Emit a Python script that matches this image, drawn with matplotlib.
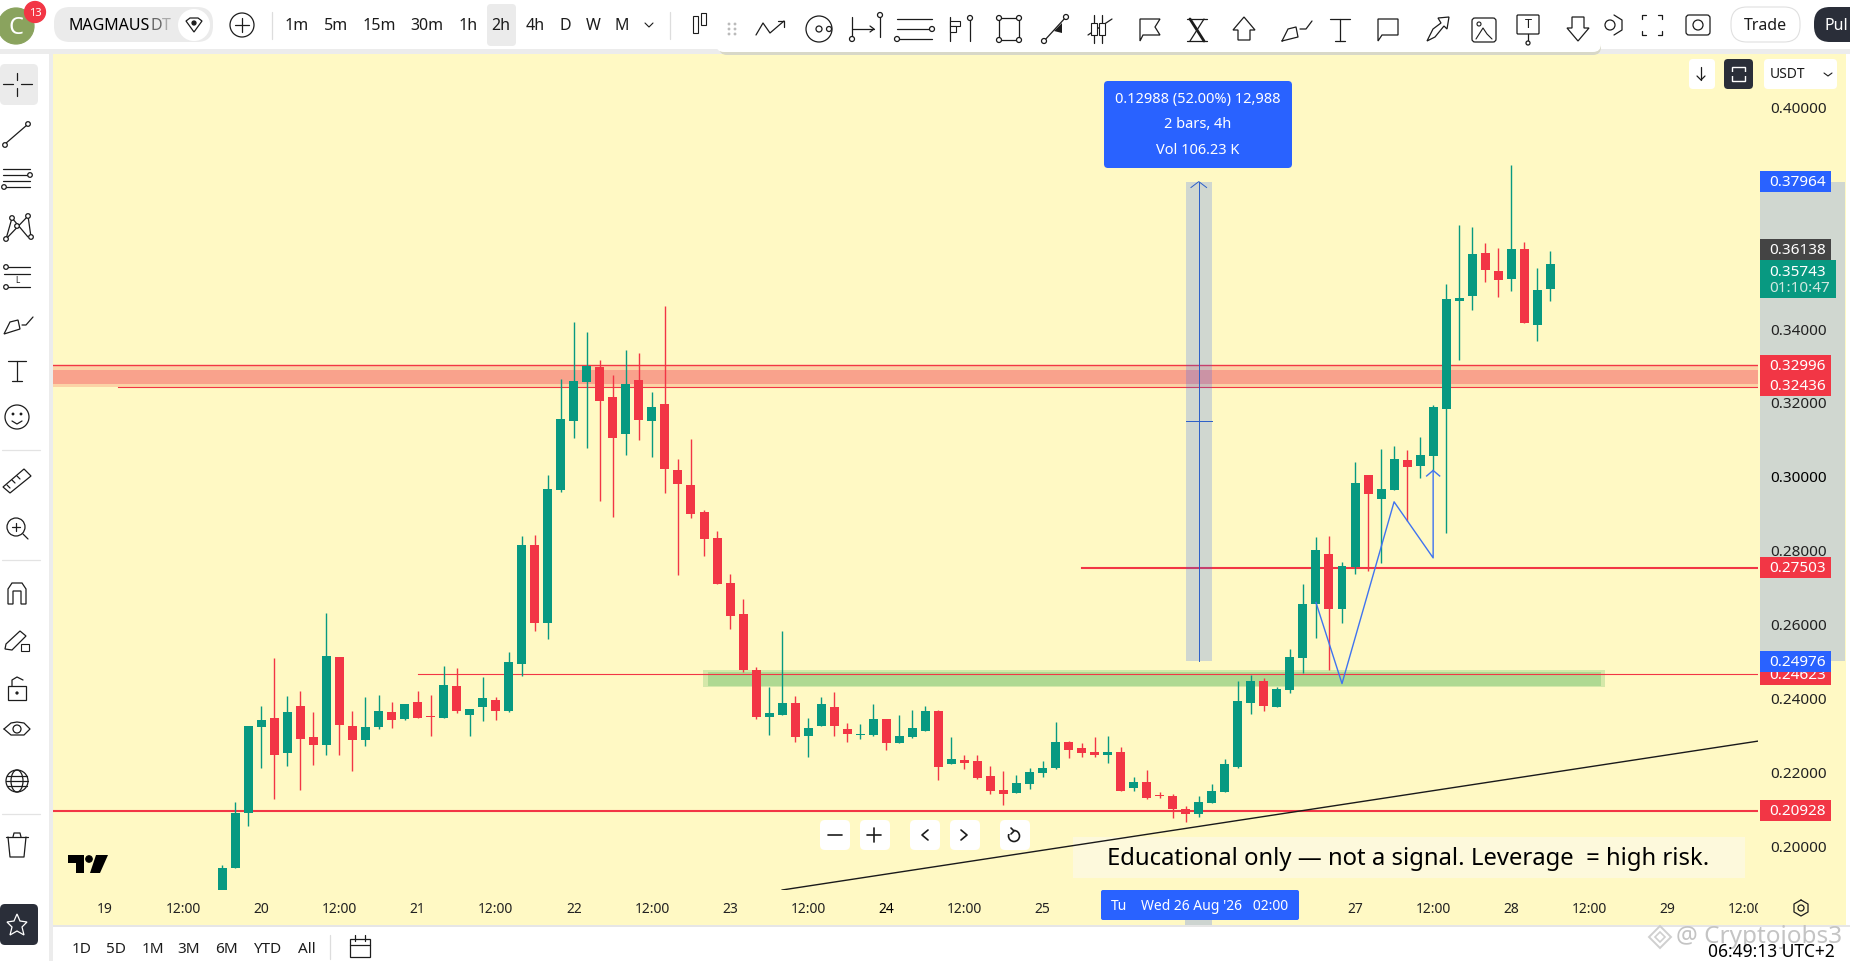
import matplotlib
matplotlib.use("Agg")
import matplotlib.pyplot as plt
from matplotlib.patches import Rectangle, FancyBboxPatch, Circle, Polygon, Ellipse
from matplotlib.transforms import Bbox

plt.rcParams["font.family"] = ["Noto Sans", "DejaVu Sans"]

# ------------------------------- DATA ------------------------------- #

# MAGMAUSDT 2h candles
opens = [.18786, .19375, .20863, .23197, .23443, .22491, .23765, .22929, .22705, .25092,
         .23229, .22844, .23197, .23604, .23411, .23872, .23497, .23443, .24310, .23518,
         .23743, .23925, .23625, .24899, .28122, .26013, .29610, .31484, .32543, .32940,
         .32137, .31130, .32597, .31484, .31944, .30156, .29749, .29021, .28315, .27096,
         .26257, .24741, .23469, .23523, .23848, .22954, .23225, .23739, .23144, .22981,
         .22981, .23415, .22765, .22927, .23090, .23631, .22196, .22304, .22277, .21871,
         .21492, .21411, .21655, .21952, .22088, .22792, .22629, .22521, .22440, .22521,
         .21546, .21709, .21357, .21330, .20978, .20842, .21140, .21438, .22115, .23848,
         .24443, .23739, .24200, .25069, .26529, .27882, .26393, .27534, .30019, .29372,
         .29613, .30425, .30261, .30532, .31808, .34728, .34863, .36033, .35540, .35327,
         .36140, .34080, .35057]
highs = [.19461, .21163, .23229, .23765, .25060, .24032, .24171, .23604, .26281, .25092,
         .23625, .24011, .24064, .23872, .23818, .24171, .24064, .24846, .24792, .23690,
         .24546, .24011, .25231, .28368, .28400, .30017, .32618, .34160, .33892, .33132,
         .32725, .33400, .33325, .32265, .34599, .30456, .30991, .29075, .28504, .27340,
         .26663, .24822, .24281, .25797, .24037, .23442, .24010, .24146, .23306, .23279,
         .23821, .23415, .23523, .23658, .23766, .23658, .22927, .22440, .22440, .22142,
         .22007, .21898, .22088, .22277, .23333, .22819, .22765, .22927, .22954, .22656,
         .21844, .22034, .21438, .21384, .21059, .21330, .21654, .22332, .24443, .24606,
         .24525, .24281, .25310, .27070, .28347, .28376, .27670, .30377, .30019, .30725,
         .30802, .30696, .31054, .31914, .35192, .36788, .36739, .36304, .36169, .38412,
         .36333, .35627, .36082]
lows = [.18786, .19375, .20521, .22084, .21249, .22137, .21495, .22169, .22437, .22437,
        .22009, .22683, .23144, .23165, .23390, .23443, .22951, .23443, .23572, .22951,
        .23358, .23390, .23604, .24578, .25799, .25585, .29557, .31023, .30755, .29321,
        .28882, .30563, .30970, .30509, .29535, .27308, .28861, .27822, .27069, .25851,
        .24687, .23415, .22981, .23523, .22792, .22386, .23225, .22954, .22792, .22873,
        .22954, .22575, .22765, .22900, .23090, .21763, .22196, .22061, .21790, .21384,
        .21086, .21411, .21519, .21844, .22061, .22359, .22386, .22386, .22223, .21465,
        .21465, .21249, .21276, .20734, .20626, .20761, .21140, .21438, .22088, .23550,
        .23631, .23739, .24118, .24663, .25610, .24740, .26016, .27341, .27418, .27631,
        .29613, .28772, .29942, .30145, .28453, .33133, .34486, .35250, .34844, .34999,
        .34138, .33645, .34728]
closes = [.19375, .20863, .23229, .23390, .22437, .23604, .22876, .22705, .25124, .23251,
          .22844, .23197, .23625, .23390, .23818, .23443, .23465, .24332, .23625, .23690,
          .23979, .23625, .24953, .28122, .26013, .29642, .31537, .32565, .32982, .32019,
          .31023, .32479, .31505, .31858, .30177, .29781, .28968, .28282, .27069, .26203,
          .24741, .23469, .23577, .23848, .22927, .23171, .23821, .23225, .23008, .23008,
          .23415, .22765, .22954, .23171, .23631, .22115, .22332, .22223, .21817, .21465,
          .21384, .21682, .21980, .22088, .22792, .22575, .22494, .22440, .22521, .21465,
          .21709, .21276, .21330, .20978, .20842, .21167, .21465, .22196, .23902, .24443,
          .23766, .24227, .25093, .26529, .27989, .26393, .27554, .29806, .29507, .29642,
          .30454, .30242, .30561, .31866, .34786, .34815, .36004, .35569, .35298, .36140,
          .34138, .35028, .35734]

price_ticks = [.40, .34, .32, .30, .28, .26, .24, .22, .20]
time_ticks = [-9, -3, 3, 9, 15, 21, 27, 33, 39, 45, 51, 57, 63, 87, 93, 99, 105, 111, 117]
time_labels = ["19", "12:00", "20", "12:00", "21", "12:00", "22", "12:00", "23", "12:00",
               "24", "12:00", "25", "27", "12:00", "28", "12:00", "29", "12:00"]

resistance_top, resistance_bottom = 0.32996, 0.32436
level_mid, level_low, level_base = 0.27503, 0.24623, 0.20928
green_zone = [0.24272, 0.24741]
trend_x, trend_y = [43, 118], [0.18784, 0.22818]
zigzag_x = [84, 86, 90, 93, 93]
zigzag_y = [0.26567, 0.24373, 0.29294, 0.27776, 0.30144]
measure_low, measure_high = 0.24976, 0.37964
last_price, prev_high = 0.35743, 0.36138

tf_labels = ["1m", "5m", "15m", "30m", "1h", "2h", "4h", "D", "W", "M"]
range_labels = ["1D", "5D", "1M", "3M", "6M", "YTD", "All"]

GREEN, RED, BLUE = "#089981", "#f23645", "#2962ff"
PANE = "#fff9c4"
W, H = 1850, 962
PX = 1 / 3693.5  # one pixel in price units

# ----------------------------- LAYOUT ------------------------------- #

fig = plt.figure(figsize=(W / 100, H / 100), dpi=100, facecolor="white")

# background layer in pixels
bg = fig.add_axes([0, 0, 1, 1], zorder=0)
bg.set_xlim(0, W)
bg.set_ylim(H, 0)
bg.axis("off")
bg.add_patch(Rectangle((0, 50), W, 5, color="#ececec", lw=0))
bg.add_patch(Rectangle((49, 50), 4, H - 50, color="#ececec", lw=0))
bg.add_patch(Rectangle((53, 55), 1793, 871, color=PANE, lw=0))
bg.add_patch(Rectangle((53, 926), W - 53, 2, color="#e6e6e6", lw=0))
bg.add_patch(Rectangle((1073, 838), 672, 41, color="#fdf9dc", lw=0))

# main chart, same price and bar scale as the pane
ax = fig.add_axes([53 / W, 1 - 891 / H, 1705 / W, 836 / H], zorder=1)
ax.patch.set_alpha(0)
ax.set_xlim(-13.0, 117.95)
ax.set_ylim(0.18784, 0.41419)
for s in ax.spines.values():
    s.set_visible(False)

ax.yaxis.tick_right()
ax.set_yticks(price_ticks)
ax.set_yticklabels([f"{p:.5f}" for p in price_ticks], fontsize=11, color="#222222")
ax.tick_params(axis="y", length=0, pad=9)
ax.set_xticks(time_ticks)
ax.set_xticklabels(time_labels, fontsize=10, color="#222222")
ax.tick_params(axis="x", length=0, pad=8)
for lab in ax.get_yticklabels():
    if lab.get_text() == "0.30000":
        lab.set_fontweight("bold")
        lab.set_color("black")
for lab in ax.get_xticklabels():
    if lab.get_text() == "24":
        lab.set_fontweight("bold")
        lab.set_color("black")
# last time label gets cut by the scale
ax.get_xticklabels()[-1].set_clip_on(True)
ax.get_xticklabels()[-1].set_clip_box(Bbox([[53, 0], [1758, 100]]))

xs = list(range(len(opens)))
colors = [GREEN if c >= o else RED for o, c in zip(opens, closes)]

# zones first, candles go on top of them
ax.axhspan(resistance_bottom - 0.00021, resistance_top - 0.00022, color="#fcd3a6", lw=0, zorder=1)
ax.axhspan(0.32479, 0.32865, color="#f9a28c", lw=0, zorder=1.1)
ax.fill_between([36.9, 106.2], green_zone[0], green_zone[1], color="#d5e8a9", lw=0, zorder=1)
ax.fill_between([37.3, 105.9], green_zone[0] + 0.0004, green_zone[1] - 0.0005, color="#afd992", lw=0, zorder=1.1)

ax.plot([-13, 118], [resistance_top] * 2, color=RED, lw=1, zorder=1.5)
ax.plot([-8, 118], [resistance_bottom - 0.00021] * 2, color=RED, lw=0.8, zorder=1.5)
ax.plot([66, 118], [level_mid] * 2, color=RED, lw=1.5, zorder=1.5)
ax.plot([15, 118], [level_low] * 2, color=RED, lw=0.8, zorder=1.5)
ax.plot([-13, 118], [level_base] * 2, color=RED, lw=1.5, zorder=1.5)

ax.vlines(xs, lows, highs, colors=colors, lw=1, zorder=2)
ax.bar(xs, [abs(c - o) for o, c in zip(opens, closes)], bottom=[min(o, c) for o, c in zip(opens, closes)],
       width=0.69, color=colors, lw=0, zorder=2.1)

# drawings over the candles
ax.plot(trend_x, trend_y, color="#1a1a1a", lw=1, zorder=3)
ax.plot(zigzag_x, zigzag_y, color="#3f73f0", lw=1, zorder=3)
ax.plot([92.5, 93, 93.5], [zigzag_y[-1] - 0.0015, zigzag_y[-1], zigzag_y[-1] - 0.0015], color="#3f73f0", lw=1, zorder=3)

# price range tool
ax.add_patch(Rectangle((74, measure_low), 2, measure_high - measure_low, color=BLUE, alpha=0.22, lw=0, zorder=2.5))
ax.plot([75, 75], [measure_low, measure_high], color="#2a5ec8", lw=0.7, zorder=3)
ax.plot([74.4, 75, 75.6], [measure_high - 0.0016, measure_high, measure_high - 0.0016], color="#2a5ec8", lw=0.7, zorder=3)
ax.plot([74, 76], [(measure_low + measure_high) / 2] * 2, color="#2a5ec8", lw=0.7, zorder=3)

# price scale
tr = ax.get_yaxis_transform()
sx0, sx1 = 1.0012, 1.0428
ax.add_patch(Rectangle((sx0, measure_low), 1.0510 - sx0, measure_high - measure_low, transform=tr,
                       color=BLUE, alpha=0.22, lw=0, clip_on=False, zorder=1))


def price_tag(price, color, zorder=5):
    ax.add_patch(Rectangle((sx0, price - 10.5 * PX), sx1 - sx0, 21 * PX, transform=tr, color=color, lw=0,
                           clip_on=False, zorder=zorder))
    ax.text(1.0065, price, f"{price:.5f}", transform=tr, color="white", fontsize=11, va="center",
            ha="left", clip_on=False, zorder=zorder + 0.1)


price_tag(measure_high, BLUE)
price_tag(prev_high, "#444444")
price_tag(resistance_top, RED)
price_tag(resistance_bottom, RED)
price_tag(level_mid, RED)
price_tag(level_low, RED)
price_tag(level_base, RED)
price_tag(measure_low, BLUE, zorder=6)
# the last price tag gets pushed down under the 0.36138 one
ax.add_patch(Rectangle((sx0, last_price - 34.4 * PX), 1.0458 - sx0, 38 * PX, transform=tr,
                       color=GREEN, lw=0, clip_on=False, zorder=5.5))
ax.text(1.0065, last_price - 7.5 * PX, f"{last_price:.5f}", transform=tr, color="white", fontsize=11, va="center",
        clip_on=False, zorder=5.6)
ax.text(1.0065, last_price - 23.5 * PX, "01:10:47", transform=tr, color="#cfe8e0", fontsize=11, va="center",
        clip_on=False, zorder=5.6)

# ----------------------------- CHROME ------------------------------- #

top = fig.add_axes([0, 0, 1, 1], zorder=3)
top.set_xlim(0, W)
top.set_ylim(H, 0)
top.axis("off")
top.patch.set_alpha(0)
INK = "#1c1c1c"


def line(*pts, lw=0.9, c=INK):
    top.plot([p[0] for p in pts], [p[1] for p in pts], color=c, lw=lw, solid_capstyle="round")


def ring(x, y, r, c=INK, lw=0.9, fc="none"):
    top.add_patch(Circle((x, y), r, fc=fc, ec=c, lw=lw, zorder=2.5))


def box(x, y, w, h, fc="white", ec="none", rad=4, lw=0.8, z=0.5):
    top.add_patch(FancyBboxPatch((x + rad, y + rad), w - 2 * rad, h - 2 * rad, boxstyle=f"round,pad={rad}",
                                 fc=fc, ec=ec, lw=lw, zorder=z))


def label(x, y, s, size=11, c=INK, ha="center", weight="normal", z=4):
    top.text(x, y, s, fontsize=size, color=c, ha=ha, va="center", fontweight=weight, zorder=z)


# top bar left
ring(16, 27, 18, c="#8aa35e", fc="#8aa35e")
label(16, 28, "C", 17, "white")
ring(35, 13, 10.5, c=RED, fc=RED)
label(35, 13, "13", 8, "white")
box(54, 8, 159, 35, fc="#ebebeb", rad=16)
label(69, 26, "MAGMAUS", 11.5, "black", ha="left", weight="bold")
label(151, 26, "D", 11.5, "#666666", ha="left", weight="bold")
label(162, 26, "T", 11.5, "#aaaaaa", ha="left", weight="bold")
top.add_patch(Circle((194, 26), 16, fc="white", lw=0, zorder=0.6))
top.add_patch(Polygon([(186, 22), (190, 19), (198, 19), (202, 22), (194, 33)], fc="white", ec=INK, lw=0.9, zorder=2))
ring(194, 24, 2, fc=INK)
ring(242, 26, 12)
line((235, 26), (249, 26))
line((242, 19), (242, 33))
line((272, 13), (272, 40), c="#dddddd")
box(487, 5, 29, 42, fc="#ebebeb")
for x, s in zip([297, 336, 379, 427, 468, 501, 535, 565, 593, 622], tf_labels):
    label(x, 26, s, 11.5)
line((645, 24), (649, 28), (653, 24), lw=0.8)
line((670, 13), (670, 40), c="#dddddd")
top.add_patch(Rectangle((693, 17), 5, 17, fc="white", ec=INK, lw=0.8))
top.add_patch(Rectangle((701, 14), 5, 12, fc="white", ec=INK, lw=0.8))

# top bar right
line((1614, 16), (1622, 21), (1622, 31), (1614, 36))
ring(1610, 26, 5)
for dx, dy in [(-1, -1), (1, -1), (-1, 1), (1, 1)]:
    cx, cy = 1652 + dx * 10, 26 + dy * 10
    line((cx, cy - dy * 4), (cx, cy), (cx - dx * 4, cy), lw=0.9)
box(1686, 16, 24, 20, fc="white", ec=INK, rad=3, lw=0.9)
ring(1698, 26, 5)
box(1731, 8, 69, 35, fc="white", ec="#e0e0e0", rad=16)
label(1765, 26, "Trade", 11.5)
box(1814, 8, 60, 35, fc="#2a2e39", rad=16)
label(1824, 26, "Pul", 11.5, "white", ha="left")

# floating drawing toolbar
box(719, 9, 882, 47, fc="#d8d8c8", rad=8, z=0.7)
box(716, 6, 885, 47, fc="white", rad=8, z=0.8)
for dx in [0, 6]:
    for dy in [-5, 0, 5]:
        ring(729 + dx, 30 + dy, 0.8, c="#bbbbbb", fc="#bbbbbb")
ty = 30
line((756, 36), (763, 24), (770, 34), (784, 22))
line((778, 22), (784, 22), (784, 28))
ring(819, ty, 13)
ring(819, ty, 3)
ring(829, ty, 2.5, fc="white")
line((852, 18), (852, 38))
line((880, 18), (880, 38))
line((852, 30), (874, 30))
line((870, 27), (874, 30), (870, 33))
ring(852, 40, 2.5, fc="white")
ring(880, 16, 2.5, fc="white")
for y0 in [20, 30, 40]:
    line((897, y0), (932, y0))
ring(932, 30, 2.5, fc="white")
ring(897, 40, 2.5, fc="white")
line((950, 18), (950, 42))
top.add_patch(Rectangle((950, 22), 10, 5, fc="white", ec=INK, lw=0.8, zorder=3))
top.add_patch(Rectangle((950, 27), 6, 6, fc="white", ec=INK, lw=0.8, zorder=3))
line((970, 20), (970, 42))
ring(970, 19, 2.5, fc="white")
top.add_patch(Rectangle((999, 19), 20, 22, fc="none", ec=INK, lw=0.9))
for px, py in [(999, 19), (1019, 19), (999, 41), (1019, 41)]:
    ring(px, py, 2.5, fc="white")
line((1044, 42), (1066, 18))
top.add_patch(Polygon([(1054, 32), (1062, 24), (1062, 34)], fc=INK, lw=0, zorder=2))
ring(1044, 42, 2.5, fc="white")
ring(1066, 18, 2.5, fc="white")
for px in [1094, 1102]:
    line((px, 16), (px, 44))
    top.add_patch(Rectangle((px - 3, 24), 6, 12, fc="white", ec=INK, lw=0.8, zorder=3))
line((1088, 36), (1112, 20))
top.add_patch(Polygon([(1140, 20), (1160, 20), (1155, 28), (1160, 36), (1143, 36), (1140, 42)], fc="none", ec=INK, lw=0.9, zorder=2))
line((1187, 20), (1207, 20))
line((1187, 42), (1207, 42))
line((1190, 20), (1204, 42), lw=2)
line((1204, 20), (1190, 42))
top.add_patch(Polygon([(1244, 18), (1255, 31), (1250, 31), (1250, 41), (1238, 41), (1238, 31), (1233, 31)], fc="none", ec=INK, lw=0.9, zorder=2))
line((1282, 42), (1288, 30), (1296, 28), (1298, 38), (1282, 42))
line((1300, 30), (1306, 30), (1312, 22))
line((1330, 20), (1350, 20))
line((1340, 20), (1340, 42))
line((1335, 42), (1345, 42))
top.add_patch(Polygon([(1378, 20), (1398, 20), (1398, 36), (1382, 36), (1378, 42)], fc="none", ec=INK, lw=0.9, zorder=2))
top.add_patch(Polygon([(1427, 42), (1433, 30), (1441, 24), (1438, 19), (1449, 18), (1447, 30), (1444, 27), (1435, 38)], fc="none", ec=INK, lw=0.9, zorder=2))
box(1472, 19, 24, 24, fc="white", ec=INK, rad=3, lw=0.9, z=1)
line((1476, 40), (1483, 29), (1487, 35), (1492, 40), lw=0.8)
ring(1479, 25, 2, lw=0.8)
box(1517, 16, 22, 19, fc="white", ec=INK, rad=1, lw=0.9, z=1)
label(1528, 25, "T", 9)
line((1528, 35), (1528, 42))
ring(1528, 44, 2, fc="white")
top.add_patch(Polygon([(1578, 42), (1589, 29), (1584, 29), (1584, 18), (1572, 18), (1572, 29), (1567, 29)], fc="none", ec=INK, lw=0.9, zorder=2))

# pane corner buttons
box(1689, 60, 26, 30, fc="white")
line((1701, 68), (1701, 81))
line((1697, 77), (1701, 81), (1705, 77))
box(1724, 60, 29, 30, fc="#2a2e39")
top.add_patch(Rectangle((1732, 68), 13, 14, fc="none", ec="white", lw=1, zorder=1))
top.add_patch(Rectangle((1730, 73), 17, 4, fc="#2a2e39", lw=0, zorder=1.5))
box(1764, 60, 73, 30, fc="white")
label(1770, 75, "USDT", 10, ha="left")
line((1824, 74), (1828, 77), (1832, 74), lw=0.8)

# left toolbar
box(0, 65, 38, 41, fc="#ebebeb", rad=5)
line((3, 85), (13, 85))
line((21, 85), (32, 85))
line((17, 74), (17, 81))
line((17, 89), (17, 97))
line((5, 145), (27, 126))
ring(5, 146, 2.3, fc="white")
ring(28, 125, 2.3, fc="white")
for y0 in [170, 176, 182, 188]:
    line((3, y0), (30, y0))
ring(30, 176, 2.3, fc="white")
ring(4, 188, 2.3, fc="white")
line((6, 240), (12, 219), (28, 238))
line((6, 240), (28, 217), (31, 238))
for px, py in [(6, 240), (12, 219), (28, 217), (31, 238), (17, 227)]:
    ring(px, py, 2.3, fc="white")
for y0 in [268, 275, 288]:
    line((4, y0), (30, y0))
label(17, 281, "L", 6)
ring(6, 268, 2.3, fc="white")
ring(6, 288, 2.3, fc="white")
top.add_patch(Polygon([(4, 335), (10, 323), (18, 321), (20, 330), (4, 335)], fc="none", ec=INK, lw=0.9, zorder=2))
line((22, 326), (26, 326), (33, 318))
line((8, 362), (26, 362))
line((17, 362), (17, 382))
line((12, 382), (22, 382))
ring(17, 418, 12)
ring(13, 415, 0.8, fc=INK)
ring(21, 415, 0.8, fc=INK)
line((12, 422), (17, 425), (22, 422))
line((2, 451), (40, 451), c="#e3e3e3")
top.add_patch(Polygon([(3, 488), (24, 470), (31, 477), (10, 494)], fc="none", ec=INK, lw=0.9, zorder=2))
line((7, 486), (10, 489))
line((12, 481), (15, 484))
line((17, 477), (20, 480))
ring(16, 528, 9)
line((23, 535), (28, 540))
line((12, 528), (20, 528))
line((16, 524), (16, 532))
line((2, 561), (40, 561), c="#e3e3e3")
top.add_patch(Polygon([(8, 605), (8, 590), (12, 584), (22, 584), (26, 590), (26, 605), (21, 605), (21, 592), (13, 592), (13, 605)], fc="none", ec=INK, lw=0.9, zorder=2))
top.add_patch(Polygon([(5, 650), (6, 645), (20, 632), (26, 637), (12, 651)], fc="none", ec=INK, lw=0.9, zorder=2))
top.add_patch(Rectangle((21, 645), 8, 7, fc="white", ec=INK, lw=0.8, zorder=3))
top.add_patch(Rectangle((8, 687), 18, 14, fc="none", ec=INK, lw=0.9, zorder=2))
line((12, 687), (12, 681), (17, 678), (23, 681))
ring(17, 694, 1, fc=INK)
line((4, 730), (11, 724), (17, 723), (24, 724), (30, 730), (24, 736), (11, 736), (4, 730))
ring(17, 730, 4)
ring(17, 782, 11)
line((6, 782), (28, 782))
line((7, 777), (27, 777))
line((7, 787), (27, 787))
top.add_patch(Ellipse((17, 782), 12, 22, fc="none", ec=INK, lw=0.9, zorder=2))
line((2, 815), (40, 815), c="#e3e3e3")
line((6, 838), (28, 838))
line((8, 838), (10, 858), (24, 858), (26, 838))
line((13, 838), (14, 834), (20, 834), (21, 838))
box(0, 905, 38, 41, fc="#2a2e39", rad=5)
top.add_patch(Polygon([(17, 915), (20, 922), (27, 923), (22, 928), (24, 936), (17, 932), (10, 936), (12, 928), (7, 923), (14, 922)], fc="none", ec="white", lw=0.9, zorder=3))

# tradingview logo
top.add_patch(Polygon([(68, 856), (84, 856), (84, 874), (76, 874), (76, 864), (68, 864)], fc="black", lw=0))
ring(89, 860, 3.2, c="black", fc="black")
top.add_patch(Polygon([(96, 856), (108, 856), (100, 874), (90, 874)], fc="black", lw=0))

# zoom buttons
for bx in [820, 860, 910, 950, 1000]:
    box(bx, 821, 30, 30, fc="white", rad=5)
line((828, 836), (842, 836), lw=1.2)
line((867, 836), (881, 836), lw=1.2)
line((874, 829), (874, 843), lw=1.2)
line((928, 831), (922, 836), (928, 841), lw=1.2)
line((961, 831), (967, 836), (961, 841), lw=1.2)
ring(1014, 837, 5.5, lw=1.2)
top.add_patch(Rectangle((1007, 828), 7, 7, fc="white", lw=0, zorder=2.6))
line((1011, 829), (1014, 832), (1011, 835), lw=1.2)
top.lines[-1].set_zorder(3)

# measure label and caption
box(1104, 82, 188, 87, fc=BLUE, rad=4)
label(1198, 99, "0.12988 (52.00%) 12,988", 10.5, "white")
label(1198, 124, "2 bars, 4h", 10.5, "white")
label(1198, 150, "Vol 106.23 K", 10.5, "white")
label(1408, 859, "Educational only — not a signal. Leverage  = high risk.", 17.2, "black")

# crosshair date on time axis
top.add_patch(Rectangle((1185, 921), 27, 5, color="#cdd4d0", lw=0))
box(1101, 891, 198, 30, fc=BLUE, rad=2)
label(1119, 907, "Tu", 10, "white")
label(1215, 907, "Wed 26 Aug '26   02:00", 10, "white")
line((1801, 901), (1808, 905), (1808, 913), (1801, 917), (1794, 913), (1794, 905), (1801, 901))
ring(1801, 909, 3)

# bottom bar
for x, s in zip([82, 116, 153, 189, 226, 267, 307], range_labels):
    label(x, 950, s, 11)
line((330, 936), (330, 960), c="#dddddd")
top.add_patch(Rectangle((350, 940), 20, 18, fc="none", ec=INK, lw=0.9))
line((350, 946), (370, 946))
line((355, 936), (355, 942))
line((365, 936), (365, 942))

# watermark and clock
top.add_patch(Polygon([(1660, 927), (1671, 938), (1660, 949), (1649, 938)], fc="none", ec="#cfcfcf", lw=1.4))
top.add_patch(Polygon([(1660, 933), (1665, 938), (1660, 943), (1655, 938)], fc="none", ec="#cfcfcf", lw=1.2))
label(1676, 937, "@ Cryptojobs3", 17.5, "#c4c4c4", ha="left", z=3)
label(1771, 952, "06:49:13 UTC+2", 12.5, "black", z=5)

fig.savefig("out.png", dpi=100)
